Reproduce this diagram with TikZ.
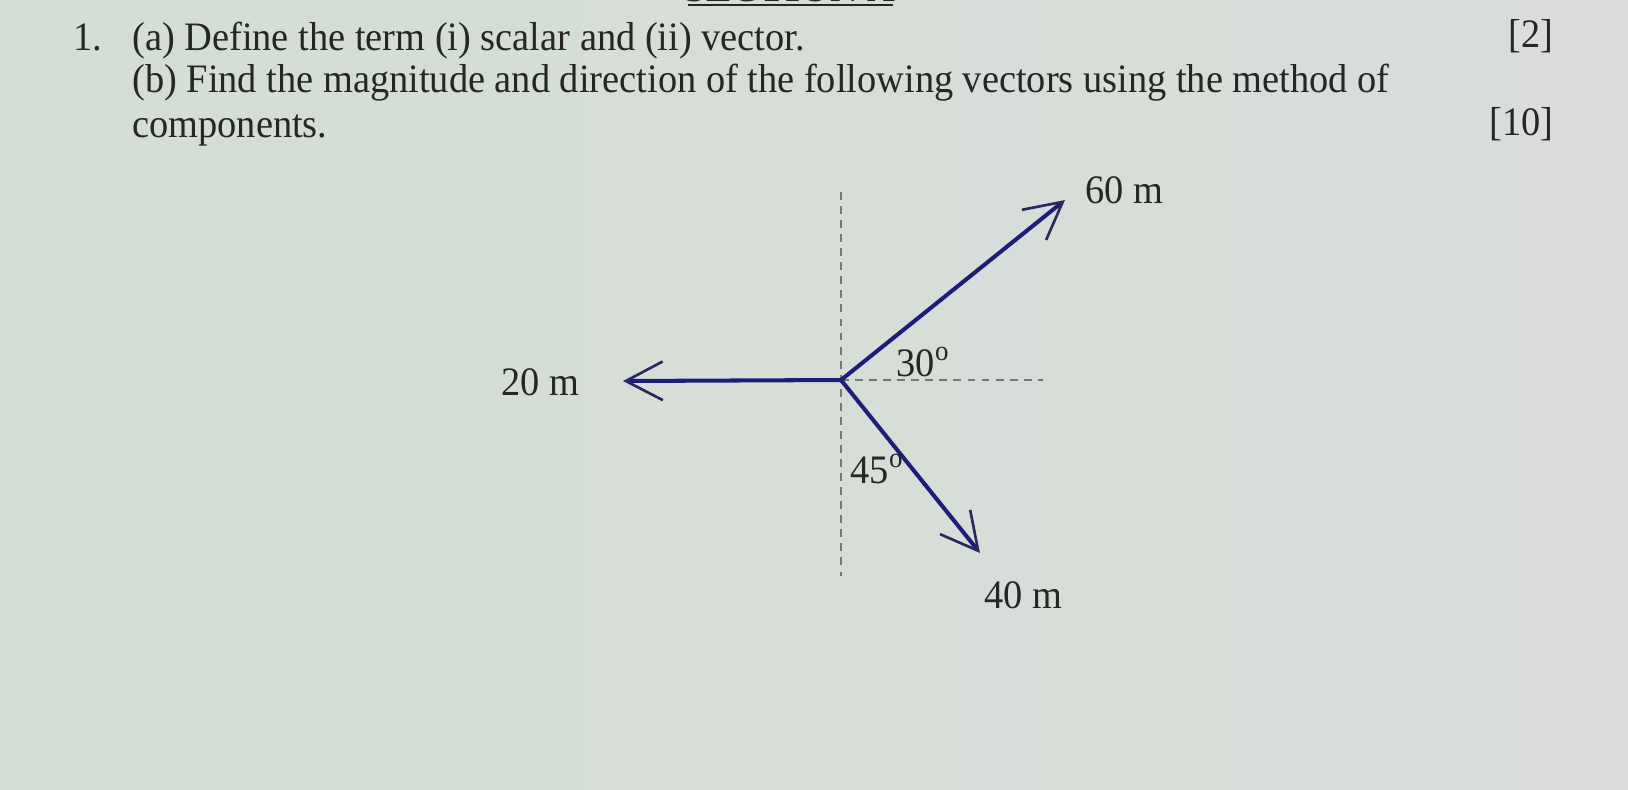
\documentclass[tikz,border=0pt]{standalone}
\usepackage{fontspec}
\setmainfont{Liberation Serif}[FakeStretch=0.95]
\usetikzlibrary{arrows.meta}

\definecolor{paperL}{RGB}{211,222,212}
\definecolor{paperR}{RGB}{218,221,218}
\definecolor{ink}{RGB}{38,38,38}
\definecolor{vecblue}{RGB}{28,30,122}
\definecolor{barbgray}{RGB}{42,42,90}
\definecolor{guidegray}{RGB}{118,120,118}

\begin{document}
\begin{tikzpicture}[
    x=0.02cm, y=-0.02cm,
    font=\fontsize{23}{28}\selectfont,
    txt/.style={text=ink, inner sep=0pt},
    vec/.style={draw=vecblue, line width=2.3pt,
        -{Straight Barb[length=21pt, width=22pt, line width=1.5pt, color=barbgray]}},
    guide/.style={draw=guidegray, line width=0.6pt, dash pattern=on 4.5pt off 3.5pt},
]

% Page
\clip (0,0) rectangle (1628,789);
\shade[left color=paperL, right color=paperR] (0,0) rectangle (1628,789);

% Heading (cut off at the top)
\node[txt, anchor=base, font=\fontsize{23}{28}\selectfont\bfseries] (heading) at (790,1) {SECTION A};
\draw[ink, line width=1.2pt] (688,5) -- (893,5);

% Question text
\node[txt, anchor=base west] (qnum) at (73,50) {1.};
\node[txt, anchor=base west] (parta) at (132,50) {(a) Define the term (i) scalar and (ii) vector.};
\node[txt, anchor=base west] (partb) at (132,92) {(b) Find the magnitude and direction of the following vectors using the method of};
\node[txt, anchor=base west] (partc) at (132,137) {components.};
\node[txt, anchor=base east] (markA) at (1554,47) {[2]};
\node[txt, anchor=base east] (markB) at (1554,135) {[10]};

% Axes
\coordinate (O) at (841,380);
\coordinate (vtop) at (841,192);
\coordinate (vbot) at (841,576);
\coordinate (hend) at (1043,380);
\draw[guide] (vtop) -- (vbot);
\draw[guide] (O) -- (hend);

% Vectors
\coordinate (tipW) at (623,381);
\coordinate (tipNE) at (1065,200);
\coordinate (tipSE) at (980,553);
\draw[vec] (O) -- (tipW);
\draw[vec] (O) -- (tipNE);
\draw[vec] (O) -- (tipSE);

% Labels
\node[txt] (lblW) at (540,382) {20 m};
\node[txt] (lblNE) at (1124,190) {60 m};
\node[txt] (lblSE) at (1023,595) {40 m};
\node[txt] (ang30) at (923,362) {30\textsuperscript{o}};
\node[txt] (ang45) at (877,469) {45\textsuperscript{o}};

\end{tikzpicture}
\end{document}
